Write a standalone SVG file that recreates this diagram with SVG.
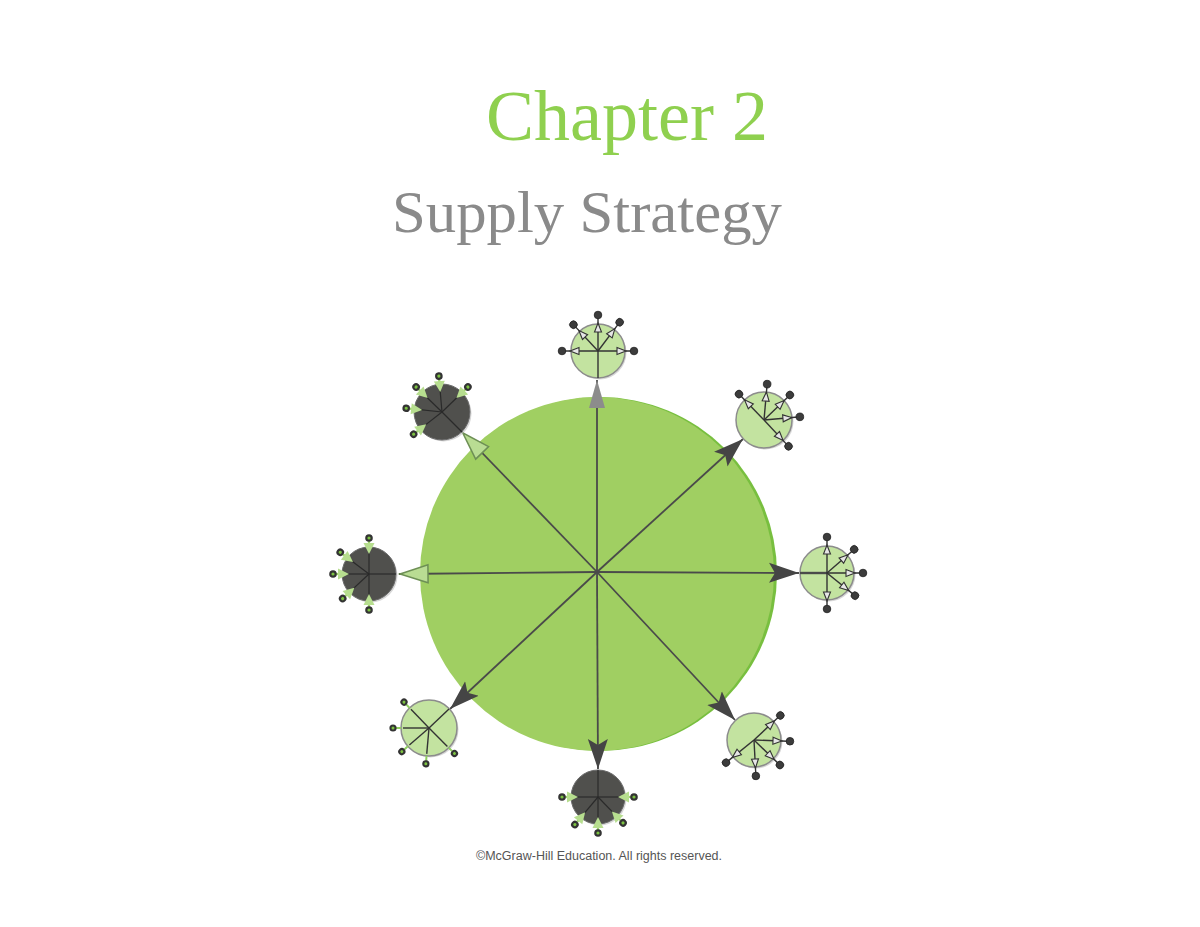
<svg xmlns="http://www.w3.org/2000/svg" xmlns:xlink="http://www.w3.org/1999/xlink" width="1200" height="927" viewBox="0 0 1200 927">
<style>
.title{font-family:"Liberation Serif",serif;fill:#8fd04f}
.sub{font-family:"Liberation Serif",serif;fill:#8a8a8a}
.foot{font-family:"Liberation Sans",sans-serif;fill:#555;font-size:12px}
.main{stroke:#4a4a4a;stroke-width:1.8;fill:none}
.lsat{fill:#c3e3a0;stroke:#8c8c8c;stroke-width:1.5}
.dsat{fill:#50504d;stroke:#6a6a6a;stroke-width:1}
.shadow{fill:#bdbdbd;opacity:0.6}
.sp{stroke:#333;stroke-width:1.4}
.spd{stroke:#2a2a2a;stroke-width:1.2}
</style>
<defs>
<marker id="mDark" markerUnits="userSpaceOnUse" viewBox="0 -11 32 22" refX="30" refY="0" markerWidth="32" markerHeight="22" orient="auto">
<path d="M0,-10 L30,0 L0,10 L6,0 Z" fill="#454545"/>
</marker>
<marker id="mGray" markerUnits="userSpaceOnUse" viewBox="0 -10 30 20" refX="28" refY="0" markerWidth="30" markerHeight="20" orient="auto">
<path d="M0,-8 L28,0 L0,8 Z" fill="#8c8c8c"/>
</marker>
<marker id="mHollow" markerUnits="userSpaceOnUse" viewBox="0 -11 32 22" refX="30" refY="0" markerWidth="32" markerHeight="22" orient="auto">
<path d="M1,-9 L29,0 L1,9 Z" fill="#b9dc93" stroke="#6d8f55" stroke-width="1.5"/>
</marker>
<g id="ls">
<line x1="0" y1="0" x2="34" y2="0" class="sp"/>
<path d="M19,-3.5 L28,0 L19,3.5 Z" fill="#e6e6e6" stroke="#333" stroke-width="1.1"/>
<circle cx="36" cy="0" r="3.8" fill="#3c3c3c" stroke="#222" stroke-width="0.8"/>
</g>
<g id="ls2">
<line x1="0" y1="0" x2="26" y2="0" class="sp"/>
<line x1="28" y1="0" x2="33" y2="0" stroke="#8fcf5f" stroke-width="2"/>
<circle cx="36" cy="0" r="3.6" fill="#333"/>
<circle cx="36" cy="0" r="1.5" fill="#7cc242"/>
</g>
<g id="ds">
<line x1="0" y1="0" x2="27" y2="0" class="spd"/>
<line x1="28" y1="0" x2="33" y2="0" stroke="#9ed46e" stroke-width="2.2"/>
<path d="M20,0 L31,-5.5 L31,5.5 Z" fill="#b7de8f"/>
<circle cx="36" cy="0" r="3.8" fill="#333"/>
<circle cx="36" cy="0" r="1.6" fill="#7cc242"/>
</g>
</defs>

<rect width="1200" height="927" fill="#ffffff"/>

<g id="title">
<text class="title" x="486" y="140" font-size="72">Chapter 2</text>
<text class="sub" x="392" y="232" font-size="60" textLength="390" lengthAdjust="spacingAndGlyphs">Supply Strategy</text>
</g>

<g id="hub-circle">
<circle cx="600" cy="574" r="177" fill="#78bf3f"/>
<circle cx="597" cy="574" r="177" fill="#a0cf62"/>
</g>

<g id="connectors">
<line class="main" x1="597" y1="572" x2="597" y2="380" marker-end="url(#mGray)"/>
<line class="main" x1="597" y1="572" x2="743" y2="439" marker-end="url(#mDark)"/>
<line class="main" x1="597" y1="572" x2="799" y2="573" stroke-width="2.4" marker-end="url(#mDark)"/>
<line class="main" x1="597" y1="572" x2="735" y2="720" marker-end="url(#mDark)"/>
<line class="main" x1="597" y1="572" x2="598" y2="769" marker-end="url(#mDark)"/>
<line class="main" x1="597" y1="572" x2="450" y2="709" marker-end="url(#mDark)"/>
<line class="main" x1="597" y1="572" x2="399" y2="574" stroke-width="2.2" marker-end="url(#mHollow)"/>
<line class="main" x1="597" y1="572" x2="462" y2="432" marker-end="url(#mHollow)"/>
</g>

<g id="sat-top" transform="translate(598,351)">
<circle class="shadow" cx="1.5" cy="1.5" r="27"/>
<circle class="lsat" r="27"/>
<line x1="0" y1="0" x2="0" y2="27" class="sp"/>
<use xlink:href="#ls" transform="rotate(-90)"/>
<use xlink:href="#ls" transform="rotate(-133)"/>
<use xlink:href="#ls" transform="rotate(-53)"/>
<use xlink:href="#ls" transform="rotate(180)"/>
<use xlink:href="#ls" transform="rotate(0)"/>
</g>

<g id="sat-topright" transform="translate(764,420)">
<circle class="shadow" cx="1.5" cy="1.5" r="28"/>
<circle class="lsat" r="28"/>
<use xlink:href="#ls" transform="rotate(-85)"/>
<use xlink:href="#ls" transform="rotate(-134)"/>
<use xlink:href="#ls" transform="rotate(-44)"/>
<use xlink:href="#ls" transform="rotate(-5)"/>
<use xlink:href="#ls" transform="rotate(47)"/>
</g>

<g id="sat-right" transform="translate(827,573)">
<circle class="shadow" cx="1.5" cy="1.5" r="27"/>
<circle class="lsat" r="27"/>
<line x1="-27" y1="0" x2="0" y2="0" stroke="#4a4a4a" stroke-width="2.4"/>
<use xlink:href="#ls" transform="rotate(-90)"/>
<use xlink:href="#ls" transform="rotate(-41)"/>
<use xlink:href="#ls" transform="rotate(0)"/>
<use xlink:href="#ls" transform="rotate(39)"/>
<use xlink:href="#ls" transform="rotate(90)"/>
</g>

<g id="sat-bottomright" transform="translate(754,740)">
<circle class="shadow" cx="1.5" cy="1.5" r="27"/>
<circle class="lsat" r="27"/>
<use xlink:href="#ls" transform="rotate(-43)"/>
<use xlink:href="#ls" transform="rotate(2)"/>
<use xlink:href="#ls" transform="rotate(44)"/>
<use xlink:href="#ls" transform="rotate(87)"/>
<use xlink:href="#ls" transform="rotate(141)"/>
</g>

<g id="sat-bottom" transform="translate(598,797)">
<circle class="shadow" cx="1.5" cy="1.5" r="27"/>
<circle class="dsat" r="27"/>
<line x1="0" y1="-27" x2="0" y2="0" class="spd"/>
<use xlink:href="#ds" transform="rotate(180)"/>
<use xlink:href="#ds" transform="rotate(0)"/>
<use xlink:href="#ds" transform="rotate(130)"/>
<use xlink:href="#ds" transform="rotate(90)"/>
<use xlink:href="#ds" transform="rotate(46)"/>
</g>

<g id="sat-bottomleft" transform="translate(429,728)">
<circle class="shadow" cx="1.5" cy="1.5" r="28"/>
<circle class="lsat" r="28"/>
<line x1="0" y1="0" x2="20" y2="-19" class="sp"/>
<use xlink:href="#ls2" transform="rotate(-134)"/>
<use xlink:href="#ls2" transform="rotate(180)"/>
<use xlink:href="#ls2" transform="rotate(139)"/>
<use xlink:href="#ls2" transform="rotate(95)"/>
<use xlink:href="#ls2" transform="rotate(45)"/>
</g>

<g id="sat-left" transform="translate(369,574)">
<circle class="shadow" cx="1.5" cy="1.5" r="27"/>
<circle class="dsat" r="27"/>
<line x1="0" y1="0" x2="27" y2="0" class="spd"/>
<use xlink:href="#ds" transform="rotate(-90)"/>
<use xlink:href="#ds" transform="rotate(-143)"/>
<use xlink:href="#ds" transform="rotate(180)"/>
<use xlink:href="#ds" transform="rotate(137)"/>
<use xlink:href="#ds" transform="rotate(90)"/>
</g>

<g id="sat-topleft" transform="translate(442,412)">
<circle class="shadow" cx="1.5" cy="1.5" r="28"/>
<circle class="dsat" r="28"/>
<line x1="0" y1="0" x2="20" y2="20" class="spd"/>
<use xlink:href="#ds" transform="rotate(-95)"/>
<use xlink:href="#ds" transform="rotate(-44)"/>
<use xlink:href="#ds" transform="rotate(-136)"/>
<use xlink:href="#ds" transform="rotate(-174)"/>
<use xlink:href="#ds" transform="rotate(142)"/>
</g>

<g id="footer">
<text class="foot" x="476" y="860" textLength="246" lengthAdjust="spacingAndGlyphs">©McGraw-Hill Education. All rights reserved.</text>
</g>
</svg>
